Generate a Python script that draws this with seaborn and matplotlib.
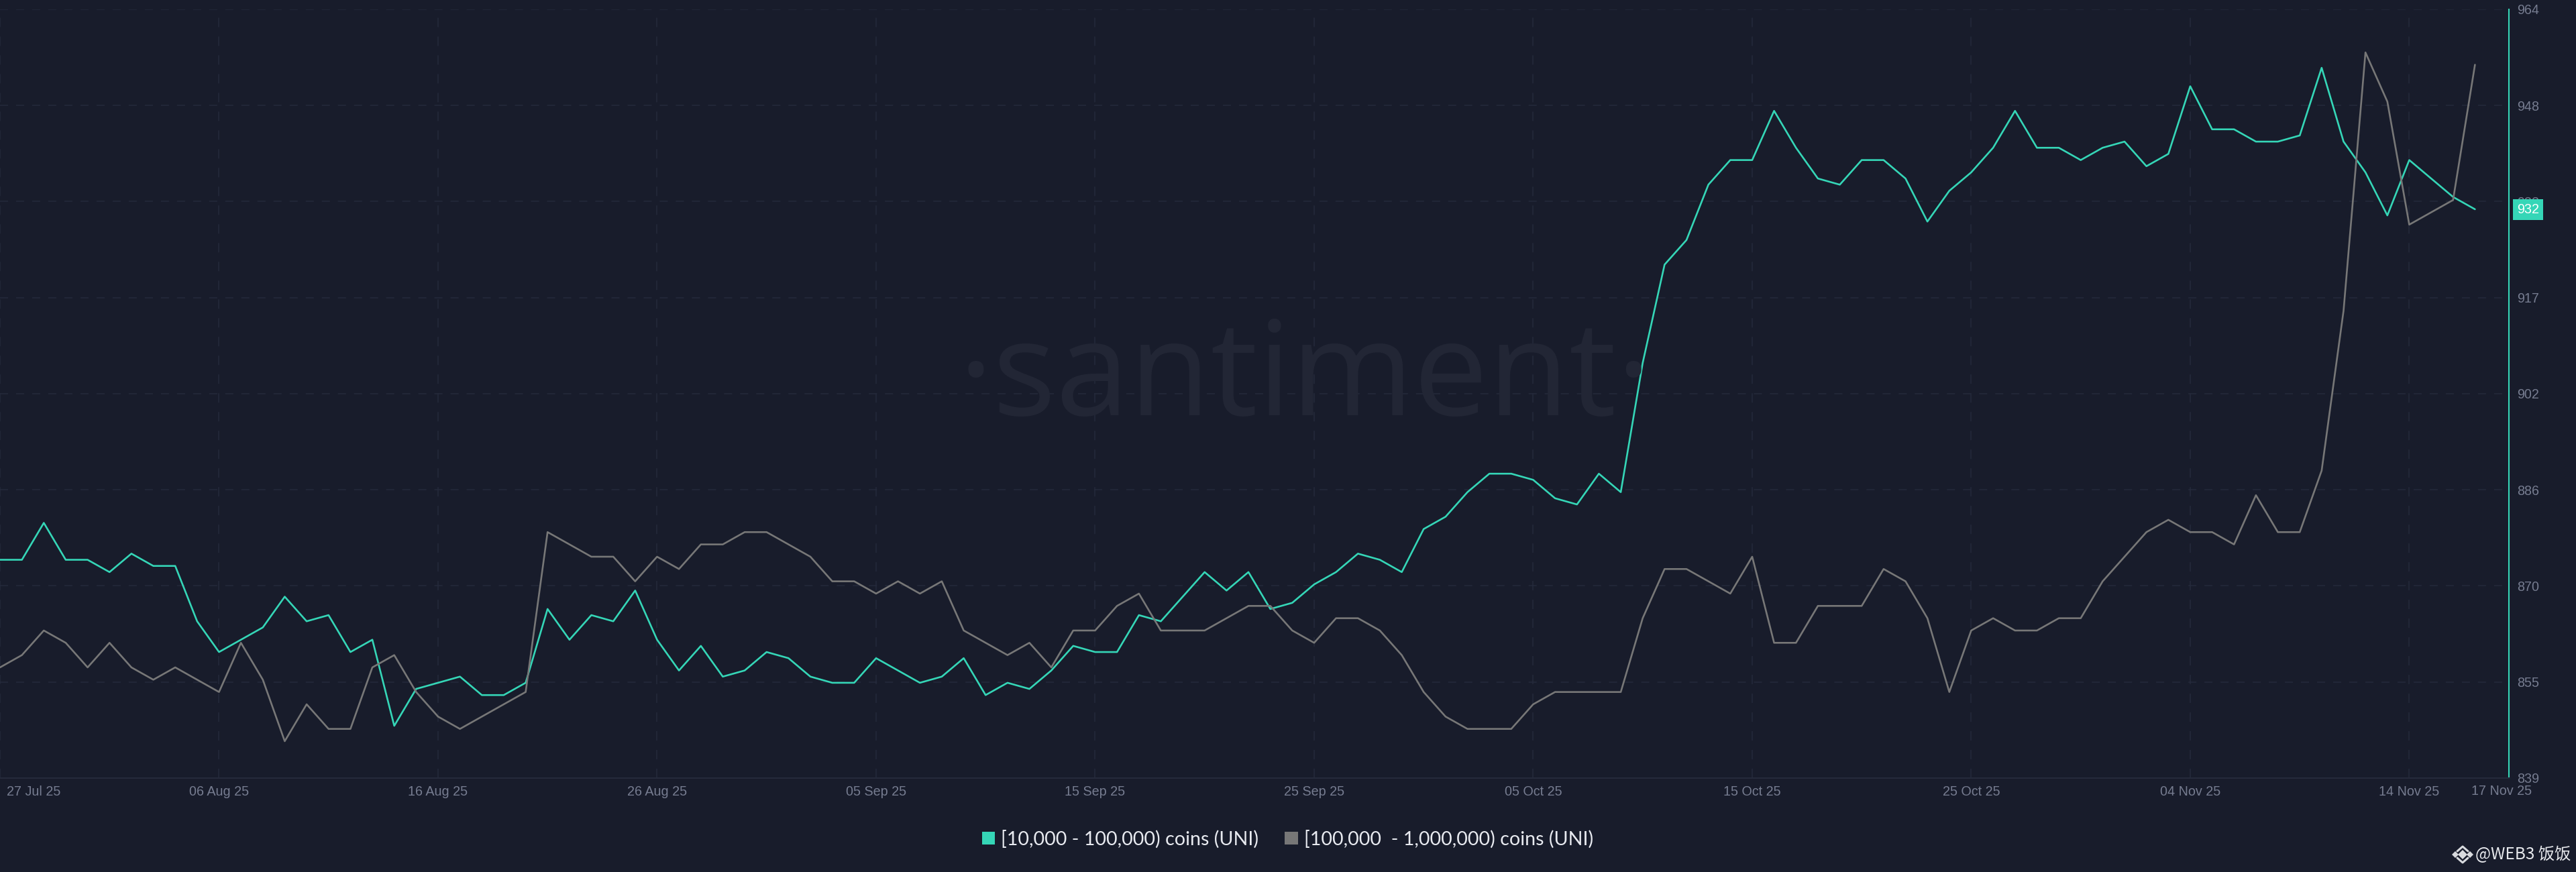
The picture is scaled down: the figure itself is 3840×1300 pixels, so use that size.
import numpy as np
import pandas as pd
import matplotlib.pyplot as plt
import seaborn as sns

from matplotlib.lines import Line2D
from matplotlib.patches import Patch
from matplotlib.transforms import ScaledTranslation

# 15 Nov has no data point in the original chart
dates = pd.date_range("2025-07-27", "2025-11-17").drop(pd.Timestamp("2025-11-15"))

holders_10k = [
    875, 875, 881, 875, 875, 873, 876, 874, 874, 865, 860, 862, 864, 869, 865, 866,
    860, 862, 848, 854, 855, 856, 853, 853, 855, 867, 862, 866, 865, 870, 862, 857,
    861, 856, 857, 860, 859, 856, 855, 855, 859, 857, 855, 856, 859, 853, 855, 854,
    857, 861, 860, 860, 866, 865, 869, 873, 870, 873, 867, 868, 871, 873, 876, 875,
    873, 880, 882, 886, 889, 889, 888, 885, 884, 889, 886, 907, 923, 927, 936, 940,
    940, 948, 942, 937, 936, 940, 940, 937, 930, 935, 938, 942, 948, 942, 942, 940,
    942, 943, 939, 941, 952, 945, 945, 943, 943, 944, 955, 943, 938, 931, 940, 934,
    932,
]
holders_100k = [
    857.5, 859.5, 863.5, 861.5, 857.5, 861.5, 857.5, 855.5, 857.5, 855.5, 853.5,
    861.5, 855.5, 845.5, 851.5, 847.5, 847.5, 857.5, 859.5, 853.5, 849.5, 847.5,
    849.5, 851.5, 853.5, 879.5, 877.5, 875.5, 875.5, 871.5, 875.5, 873.5, 877.5,
    877.5, 879.5, 879.5, 877.5, 875.5, 871.5, 871.5, 869.5, 871.5, 869.5, 871.5,
    863.5, 861.5, 859.5, 861.5, 857.5, 863.5, 863.5, 867.5, 869.5, 863.5, 863.5,
    863.5, 865.5, 867.5, 867.5, 863.5, 861.5, 865.5, 865.5, 863.5, 859.5, 853.5,
    849.5, 847.5, 847.5, 847.5, 851.5, 853.5, 853.5, 853.5, 853.5, 865.5, 873.5,
    873.5, 871.5, 869.5, 875.5, 861.5, 861.5, 867.5, 867.5, 867.5, 873.5, 871.5,
    865.5, 853.5, 863.5, 865.5, 863.5, 863.5, 865.5, 865.5, 871.5, 875.5, 879.5,
    881.5, 879.5, 879.5, 877.5, 885.5, 879.5, 879.5, 889.5, 915.5, 957.5, 949.5,
    929.5, 933.5, 955.5,
]

series_names = ["[10,000 - 100,000) coins (UNI)", "[100,000  - 1,000,000) coins (UNI)"]
y_tick_labels = ["839", "855", "870", "886", "902", "917", "933", "948", "964"]
x_tick_labels = ["27 Jul 25", "06 Aug 25", "16 Aug 25", "26 Aug 25", "05 Sep 25", "15 Sep 25",
                 "25 Sep 25", "05 Oct 25", "15 Oct 25", "25 Oct 25", "04 Nov 25", "14 Nov 25"]
last_date_label = "17 Nov 25"
last_value = 932

BG = "#181c2b"
GRID = "#252a3b"
TEAL = "#35d6b7"
GREY = "#777777"
TICK = "#767c90"
W, H = 3840, 1300


def fx(px):
    return px / W


def fy(py):
    return 1 - py / H


sns.set_theme(style="dark", rc={"figure.facecolor": BG, "axes.facecolor": BG, "savefig.facecolor": BG})
plt.rcParams["font.family"] = ["Liberation Sans", "Noto Sans CJK SC", "DejaVu Sans"]

df = pd.DataFrame({"date": dates, series_names[0]: holders_10k, series_names[1]: holders_100k})
long_df = df.melt("date", var_name="series", value_name="holders")

fig = plt.figure(figsize=(W / 100, H / 100), dpi=100)
ax = fig.add_axes([0, fy(1160), fx(3740), fy(14) - fy(1160)])

sns.lineplot(data=long_df, x="date", y="holders", hue="series", hue_order=series_names,
             palette=[TEAL, GREY], linewidth=1.9, legend=False, ax=ax, zorder=3)

ax.set_xlim(dates[0] + pd.Timedelta(days=0.015), dates[0] + pd.Timedelta(days=114.55))
ax.set_ylim(839.5, 964.5)
ax.set_xlabel("")
ax.set_ylabel("")

# axis scale is split evenly in 8, labels are rounded as on the original
ax.yaxis.tick_right()
ax.set_yticks(np.linspace(839.5, 964.5, len(y_tick_labels)), labels=y_tick_labels)
x_ticks = pd.date_range(dates[0], periods=len(x_tick_labels), freq="10D")
ax.set_xticks(x_ticks, labels=x_tick_labels)
ax.tick_params(axis="both", length=0, labelcolor=TICK, labelsize=14.2)
ax.tick_params(axis="x", pad=8)
ax.tick_params(axis="y", pad=8.5)
for lab in ax.get_yticklabels():
    lab.set_ha("left")

# first label is pushed inside the canvas
first = ax.get_xticklabels()[0]
first.set_transform(first.get_transform() + ScaledTranslation(50 / 100, 0, fig.dpi_scale_trans))

ax.grid(axis="y", color=GRID, linewidth=1.1, linestyle=(0, (7.85, 7.85)))
ax.grid(axis="x", color=GRID, linewidth=1.1, linestyle=(0, (9.16, 9.16)))
ax.set_axisbelow(True)

for side in ["top", "left"]:
    ax.spines[side].set_visible(False)
ax.spines["bottom"].set_color(GRID)
ax.spines["bottom"].set_linewidth(1.5)
ax.spines["right"].set_color(TEAL)
ax.spines["right"].set_linewidth(1.5)

ax.annotate(last_date_label, xy=(dates[-1], 0), xycoords=("data", "axes fraction"),
            xytext=(28.8, -19.5 * 0.72), textcoords="offset points", ha="center", va="center",
            color=TICK, fontsize=14.2, annotation_clip=False)

# current value badge sits on top of the 933 tick label
ax.annotate(str(last_value), xy=(1, last_value), xycoords=("axes fraction", "data"),
            xytext=(12 * 0.72, -0.5), textcoords="offset points", ha="left", va="center",
            color="white", fontsize=14.2, annotation_clip=False, zorder=6,
            bbox=dict(boxstyle="square,pad=0.3", facecolor=TEAL, edgecolor="none"))

fig.text(fx(1945), fy(568), "·santiment·", color="#222635", fontsize=142, ha="center", va="center",
         family="Open Sans", zorder=0.4).set_in_layout(False)
fig.patch.set_zorder(0)
ax.patch.set_alpha(0)

handles = [Patch(facecolor=c, edgecolor="none") for c in [TEAL, GREY]]
leg = fig.legend(handles, series_names, loc="center", bbox_to_anchor=(fx(1919.5), fy(1251)), ncols=2,
                 frameon=False, labelcolor="#e8eaf0", handlelength=0.67, handleheight=0.67,
                 handletextpad=0.32, columnspacing=1.36, prop={"family": "Lato", "size": 20.6})

# repost badge, bottom right corner
fig.text(fx(3690), fy(1274), "@WEB3 饭饭", color="#e6e8ec", fontsize=17.5, ha="left", va="center",
         family=["Noto Sans CJK SC", "DejaVu Sans"])
for cx, cy, size in [(3671, 1274, 7), (3660, 1274, 5.5), (3682, 1274, 5.5)]:
    fig.add_artist(Line2D([fx(cx)], [fy(cy)], marker="D", markersize=size, color="#d8dade", linestyle="none",
                          markeredgewidth=0, transform=fig.transFigure))
for sign in [-1, 1]:
    fig.add_artist(Line2D([fx(3663), fx(3671), fx(3679)], [fy(1274 + sign * 5), fy(1274 + sign * 12), fy(1274 + sign * 5)],
                          color="#d8dade", linewidth=2.2, transform=fig.transFigure))

fig.savefig("out.png", dpi=100)
